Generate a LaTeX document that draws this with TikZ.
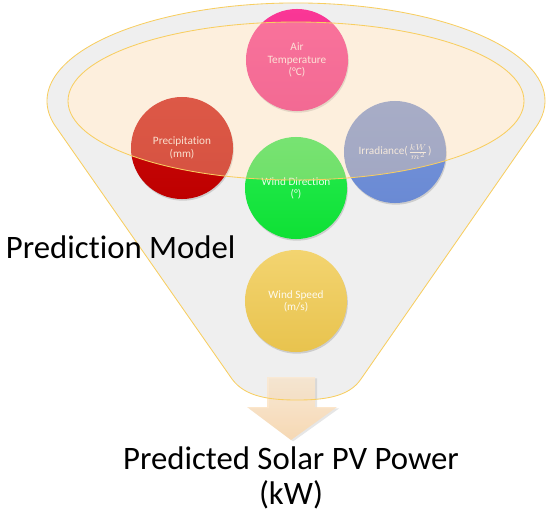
\documentclass[tikz,border=0pt]{standalone}
\usepackage{fontspec}
\setmainfont{Carlito}[Ligatures={NoCommon,NoRare}]
\usetikzlibrary{shadows}

\definecolor{funnelgray}{RGB}{239,239,239}
\definecolor{rimgold}{RGB}{248,206,96}
\definecolor{peach}{RGB}{250,214,168}

\begin{document}
\begin{tikzpicture}[x=0.025cm, y=0.025cm,
    bubble/.style={circle, minimum size=2.55cm, inner sep=0pt, align=center,
        text=white, text opacity=0.9, font=\fontsize{8}{8.7}\selectfont,
        drop shadow={shadow xshift=0.6pt, shadow yshift=-1.2pt, opacity=0.3}},
    bigtext/.style={font=\fontsize{23.3}{25}\selectfont, text=black, align=center},
    rim/.style={draw=rimgold, line width=0.6pt},
]
\useasboundingbox (0,0) rectangle (550,522);

% funnel body
\path[fill=funnelgray] (55.3,396) -- (232,143)
    .. controls (245,125) and (270,122) .. (297,122)
    .. controls (324,122) and (349,125) .. (361,143)
    -- (536.7,396) arc[start angle=-14.8, end angle=194.8, x radius=249, y radius=98] -- cycle;
\fill[white] (296,421) ellipse[x radius=228, y radius=79];

% output arrow
\path[top color=peach!55!white, bottom color=peach, fill opacity=0.8,
    drop shadow={shadow xshift=1.5pt, shadow yshift=-1pt, opacity=0.2}]
    (267,145) -- (315,145) -- (315,115) -- (337,115) -- (291,82) -- (247,115) -- (267,115) -- cycle;

% funnel rim
\draw[rim] (55.3,396) -- (232,143)
    .. controls (245,125) and (270,122) .. (297,122)
    .. controls (324,122) and (349,125) .. (361,143)
    -- (536.7,396) arc[start angle=-14.8, end angle=194.8, x radius=249, y radius=98];

% inputs
\node[bubble, top color={rgb,255:red,250;green,55;blue,150}, bottom color={rgb,255:red,238;green,40;blue,135}]
    (airtemp) at (297,462) {Air\\Temperature\\(°C)};
\node[bubble, top color={rgb,255:red,204;green,12;blue,12}, bottom color={rgb,255:red,190;green,0;blue,0}]
    (precip) at (182,374) {Precipitation\\(mm)};
\node[bubble, top color={rgb,255:red,118;green,148;blue,218}, bottom color={rgb,255:red,106;green,138;blue,212}]
    (irrad) at (395,370) {Irradiance($\frac{kW}{m^2}$)};
\node[bubble, top color={rgb,255:red,40;green,236;blue,82}, bottom color={rgb,255:red,14;green,224;blue,52}]
    (winddir) at (296,334) {Wind Direction\\(°)};
\node[bubble, top color={rgb,255:red,243;green,212;blue,112}, bottom color={rgb,255:red,232;green,195;blue,78}]
    (windspd) at (296,221) {Wind Speed\\(m/s)};

% top of funnel, over the inputs
\draw[rim, fill=peach, fill opacity=0.38] (296,421) ellipse[x radius=228, y radius=79];

% labels
\node[bigtext, anchor=west] (model) at (1,275) {Prediction Model};
\node[bigtext] (output) at (291,44) {Predicted Solar PV Power\\(kW)};

\end{tikzpicture}
\end{document}
